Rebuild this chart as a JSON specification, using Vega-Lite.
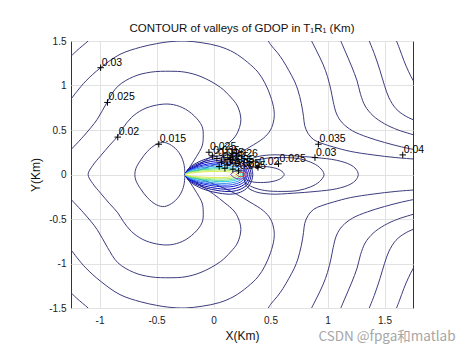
{
"$schema":"https://vega.github.io/schema/vega-lite/v6.json",
"width":342,"height":267,
"autosize":{"type":"none"},
"padding":{"left":71,"top":41,"right":61,"bottom":45},
"config":{"view":{"stroke":"#333333","strokeWidth":1},"font":"Liberation Sans",
 "axis":{"grid":true,"gridColor":"#e2e2e2","gridWidth":1,"ticks":false,"domain":false,"labelFontSize":10,"labelColor":"#1a1a1a","titleFontSize":12,"titleFontWeight":"normal","titleColor":"#111111"}},
"title":{"text":"CONTOUR of valleys of GDOP in T₁R₁ (Km)","fontSize":11.5,"fontWeight":"normal","color":"#111111","offset":2,"font":"Liberation Sans"},
"datasets":{
"lines":[
{"id":"c015","lvl":"0.015","i":0,"x":-0.25,"y":0},{"id":"c015","lvl":"0.015","i":1,"x":-0.26,"y":0.12},{"id":"c015","lvl":"0.015","i":2,"x":-0.29,"y":0.22},{"id":"c015","lvl":"0.015","i":3,"x":-0.35,"y":0.31},{"id":"c015","lvl":"0.015","i":4,"x":-0.43,"y":0.36},{"id":"c015","lvl":"0.015","i":5,"x":-0.5,"y":0.34},{"id":"c015","lvl":"0.015","i":6,"x":-0.58,"y":0.26},{"id":"c015","lvl":"0.015","i":7,"x":-0.64,"y":0.16},{"id":"c015","lvl":"0.015","i":8,"x":-0.68,"y":0.07},{"id":"c015","lvl":"0.015","i":9,"x":-0.69,"y":0},{"id":"c015","lvl":"0.015","i":10,"x":-0.68,"y":-0.07},{"id":"c015","lvl":"0.015","i":11,"x":-0.64,"y":-0.16},{"id":"c015","lvl":"0.015","i":12,"x":-0.58,"y":-0.26},{"id":"c015","lvl":"0.015","i":13,"x":-0.5,"y":-0.34},{"id":"c015","lvl":"0.015","i":14,"x":-0.43,"y":-0.36},{"id":"c015","lvl":"0.015","i":15,"x":-0.35,"y":-0.31},{"id":"c015","lvl":"0.015","i":16,"x":-0.29,"y":-0.22},{"id":"c015","lvl":"0.015","i":17,"x":-0.26,"y":-0.12},{"id":"c015","lvl":"0.015","i":18,"x":-0.25,"y":0},

{"id":"c020","lvl":"0.02","i":0,"x":-0.25,"y":0},{"id":"c020","lvl":"0.02","i":1,"x":-0.21,"y":0.08},{"id":"c020","lvl":"0.02","i":2,"x":-0.15,"y":0.2},{"id":"c020","lvl":"0.02","i":3,"x":-0.1,"y":0.32},{"id":"c020","lvl":"0.02","i":4,"x":-0.09,"y":0.42},{"id":"c020","lvl":"0.02","i":5,"x":-0.1,"y":0.54},{"id":"c020","lvl":"0.02","i":6,"x":-0.17,"y":0.66},{"id":"c020","lvl":"0.02","i":7,"x":-0.27,"y":0.75},{"id":"c020","lvl":"0.02","i":8,"x":-0.38,"y":0.79},{"id":"c020","lvl":"0.02","i":9,"x":-0.5,"y":0.78},{"id":"c020","lvl":"0.02","i":10,"x":-0.62,"y":0.73},{"id":"c020","lvl":"0.02","i":11,"x":-0.72,"y":0.64},{"id":"c020","lvl":"0.02","i":12,"x":-0.79,"y":0.53},{"id":"c020","lvl":"0.02","i":13,"x":-0.84,"y":0.43},{"id":"c020","lvl":"0.02","i":14,"x":-0.91,"y":0.33},{"id":"c020","lvl":"0.02","i":15,"x":-0.99,"y":0.21},{"id":"c020","lvl":"0.02","i":16,"x":-1.06,"y":0.1},{"id":"c020","lvl":"0.02","i":17,"x":-1.1,"y":0},{"id":"c020","lvl":"0.02","i":18,"x":-1.06,"y":-0.1},{"id":"c020","lvl":"0.02","i":19,"x":-0.99,"y":-0.21},{"id":"c020","lvl":"0.02","i":20,"x":-0.91,"y":-0.33},{"id":"c020","lvl":"0.02","i":21,"x":-0.84,"y":-0.43},{"id":"c020","lvl":"0.02","i":22,"x":-0.79,"y":-0.53},{"id":"c020","lvl":"0.02","i":23,"x":-0.72,"y":-0.64},{"id":"c020","lvl":"0.02","i":24,"x":-0.62,"y":-0.73},{"id":"c020","lvl":"0.02","i":25,"x":-0.5,"y":-0.78},{"id":"c020","lvl":"0.02","i":26,"x":-0.38,"y":-0.79},{"id":"c020","lvl":"0.02","i":27,"x":-0.27,"y":-0.75},{"id":"c020","lvl":"0.02","i":28,"x":-0.17,"y":-0.66},{"id":"c020","lvl":"0.02","i":29,"x":-0.1,"y":-0.54},{"id":"c020","lvl":"0.02","i":30,"x":-0.09,"y":-0.42},{"id":"c020","lvl":"0.02","i":31,"x":-0.1,"y":-0.32},{"id":"c020","lvl":"0.02","i":32,"x":-0.15,"y":-0.2},{"id":"c020","lvl":"0.02","i":33,"x":-0.21,"y":-0.08},{"id":"c020","lvl":"0.02","i":34,"x":-0.25,"y":0},

{"id":"c025","lvl":"0.025","i":0,"x":-1.28,"y":0.24},{"id":"c025","lvl":"0.025","i":1,"x":-1.14,"y":0.43},{"id":"c025","lvl":"0.025","i":2,"x":-1.02,"y":0.62},{"id":"c025","lvl":"0.025","i":3,"x":-0.93,"y":0.82},{"id":"c025","lvl":"0.025","i":4,"x":-0.84,"y":0.99},{"id":"c025","lvl":"0.025","i":5,"x":-0.7,"y":1.1},{"id":"c025","lvl":"0.025","i":6,"x":-0.55,"y":1.15},{"id":"c025","lvl":"0.025","i":7,"x":-0.38,"y":1.16},{"id":"c025","lvl":"0.025","i":8,"x":-0.25,"y":1.15},{"id":"c025","lvl":"0.025","i":9,"x":-0.11,"y":1.1},{"id":"c025","lvl":"0.025","i":10,"x":0.06,"y":0.98},{"id":"c025","lvl":"0.025","i":11,"x":0.15,"y":0.87},{"id":"c025","lvl":"0.025","i":12,"x":0.21,"y":0.77},{"id":"c025","lvl":"0.025","i":13,"x":0.24,"y":0.62},{"id":"c025","lvl":"0.025","i":14,"x":0.22,"y":0.5},{"id":"c025","lvl":"0.025","i":15,"x":0.18,"y":0.41},{"id":"c025","lvl":"0.025","i":16,"x":0.1,"y":0.32},{"id":"c025","lvl":"0.025","i":17,"x":0.0,"y":0.22},{"id":"c025","lvl":"0.025","i":18,"x":-0.14,"y":0.1},{"id":"c025","lvl":"0.025","i":19,"x":-0.25,"y":0},{"id":"c025","lvl":"0.025","i":20,"x":-0.14,"y":-0.1},{"id":"c025","lvl":"0.025","i":21,"x":0.0,"y":-0.22},{"id":"c025","lvl":"0.025","i":22,"x":0.1,"y":-0.32},{"id":"c025","lvl":"0.025","i":23,"x":0.18,"y":-0.41},{"id":"c025","lvl":"0.025","i":24,"x":0.22,"y":-0.5},{"id":"c025","lvl":"0.025","i":25,"x":0.24,"y":-0.62},{"id":"c025","lvl":"0.025","i":26,"x":0.21,"y":-0.77},{"id":"c025","lvl":"0.025","i":27,"x":0.15,"y":-0.87},{"id":"c025","lvl":"0.025","i":28,"x":0.06,"y":-0.98},{"id":"c025","lvl":"0.025","i":29,"x":-0.11,"y":-1.1},{"id":"c025","lvl":"0.025","i":30,"x":-0.25,"y":-1.15},{"id":"c025","lvl":"0.025","i":31,"x":-0.38,"y":-1.16},{"id":"c025","lvl":"0.025","i":32,"x":-0.55,"y":-1.15},{"id":"c025","lvl":"0.025","i":33,"x":-0.7,"y":-1.1},{"id":"c025","lvl":"0.025","i":34,"x":-0.84,"y":-0.99},{"id":"c025","lvl":"0.025","i":35,"x":-0.93,"y":-0.82},{"id":"c025","lvl":"0.025","i":36,"x":-1.02,"y":-0.62},{"id":"c025","lvl":"0.025","i":37,"x":-1.14,"y":-0.43},{"id":"c025","lvl":"0.025","i":38,"x":-1.28,"y":-0.24},

{"id":"c030","lvl":"0.03","i":0,"x":-1.3,"y":0.76},{"id":"c030","lvl":"0.03","i":1,"x":-1.2,"y":0.93},{"id":"c030","lvl":"0.03","i":2,"x":-1.12,"y":1.05},{"id":"c030","lvl":"0.03","i":3,"x":-0.99,"y":1.2},{"id":"c030","lvl":"0.03","i":4,"x":-0.82,"y":1.35},{"id":"c030","lvl":"0.03","i":5,"x":-0.64,"y":1.43},{"id":"c030","lvl":"0.03","i":6,"x":-0.5,"y":1.47},{"id":"c030","lvl":"0.03","i":7,"x":-0.4,"y":1.49},{"id":"c030","lvl":"0.03","i":8,"x":-0.25,"y":1.5},{"id":"c030","lvl":"0.03","i":9,"x":-0.1,"y":1.48},{"id":"c030","lvl":"0.03","i":10,"x":0.05,"y":1.44},{"id":"c030","lvl":"0.03","i":11,"x":0.18,"y":1.37},{"id":"c030","lvl":"0.03","i":12,"x":0.3,"y":1.26},{"id":"c030","lvl":"0.03","i":13,"x":0.39,"y":1.15},{"id":"c030","lvl":"0.03","i":14,"x":0.45,"y":1.03},{"id":"c030","lvl":"0.03","i":15,"x":0.5,"y":0.88},{"id":"c030","lvl":"0.03","i":16,"x":0.53,"y":0.73},{"id":"c030","lvl":"0.03","i":17,"x":0.53,"y":0.62},{"id":"c030","lvl":"0.03","i":18,"x":0.5,"y":0.5},{"id":"c030","lvl":"0.03","i":19,"x":0.44,"y":0.41},{"id":"c030","lvl":"0.03","i":20,"x":0.32,"y":0.31},{"id":"c030","lvl":"0.03","i":21,"x":0.2,"y":0.22},{"id":"c030","lvl":"0.03","i":22,"x":0.05,"y":0.13},{"id":"c030","lvl":"0.03","i":23,"x":-0.1,"y":0.06},{"id":"c030","lvl":"0.03","i":24,"x":-0.25,"y":0},{"id":"c030","lvl":"0.03","i":25,"x":-0.1,"y":-0.06},{"id":"c030","lvl":"0.03","i":26,"x":0.05,"y":-0.13},{"id":"c030","lvl":"0.03","i":27,"x":0.2,"y":-0.22},{"id":"c030","lvl":"0.03","i":28,"x":0.32,"y":-0.31},{"id":"c030","lvl":"0.03","i":29,"x":0.44,"y":-0.41},{"id":"c030","lvl":"0.03","i":30,"x":0.5,"y":-0.5},{"id":"c030","lvl":"0.03","i":31,"x":0.53,"y":-0.62},{"id":"c030","lvl":"0.03","i":32,"x":0.53,"y":-0.73},{"id":"c030","lvl":"0.03","i":33,"x":0.5,"y":-0.88},{"id":"c030","lvl":"0.03","i":34,"x":0.45,"y":-1.03},{"id":"c030","lvl":"0.03","i":35,"x":0.39,"y":-1.15},{"id":"c030","lvl":"0.03","i":36,"x":0.3,"y":-1.26},{"id":"c030","lvl":"0.03","i":37,"x":0.18,"y":-1.37},{"id":"c030","lvl":"0.03","i":38,"x":0.05,"y":-1.44},{"id":"c030","lvl":"0.03","i":39,"x":-0.1,"y":-1.48},{"id":"c030","lvl":"0.03","i":40,"x":-0.25,"y":-1.5},{"id":"c030","lvl":"0.03","i":41,"x":-0.4,"y":-1.49},{"id":"c030","lvl":"0.03","i":42,"x":-0.5,"y":-1.47},{"id":"c030","lvl":"0.03","i":43,"x":-0.64,"y":-1.43},{"id":"c030","lvl":"0.03","i":44,"x":-0.82,"y":-1.35},{"id":"c030","lvl":"0.03","i":45,"x":-0.99,"y":-1.2},{"id":"c030","lvl":"0.03","i":46,"x":-1.12,"y":-1.05},{"id":"c030","lvl":"0.03","i":47,"x":-1.2,"y":-0.93},{"id":"c030","lvl":"0.03","i":48,"x":-1.3,"y":-0.76},

{"id":"c035a","lvl":"0.035","i":0,"x":-1.32,"y":1.24},{"id":"c035a","lvl":"0.035","i":1,"x":-1.2,"y":1.39},{"id":"c035a","lvl":"0.035","i":2,"x":-1.1,"y":1.5},{"id":"c035a","lvl":"0.035","i":3,"x":-1.06,"y":1.55},
{"id":"c035b","lvl":"0.035","i":0,"x":-1.32,"y":-1.24},{"id":"c035b","lvl":"0.035","i":1,"x":-1.2,"y":-1.39},{"id":"c035b","lvl":"0.035","i":2,"x":-1.1,"y":-1.5},{"id":"c035b","lvl":"0.035","i":3,"x":-1.06,"y":-1.55},

{"id":"c035c","lvl":"0.035","i":0,"x":0.46,"y":1.55},{"id":"c035c","lvl":"0.035","i":1,"x":0.5,"y":1.46},{"id":"c035c","lvl":"0.035","i":2,"x":0.56,"y":1.37},{"id":"c035c","lvl":"0.035","i":3,"x":0.61,"y":1.28},{"id":"c035c","lvl":"0.035","i":4,"x":0.66,"y":1.17},{"id":"c035c","lvl":"0.035","i":5,"x":0.71,"y":1.05},{"id":"c035c","lvl":"0.035","i":6,"x":0.74,"y":0.95},{"id":"c035c","lvl":"0.035","i":7,"x":0.77,"y":0.8},{"id":"c035c","lvl":"0.035","i":8,"x":0.79,"y":0.65},{"id":"c035c","lvl":"0.035","i":9,"x":0.8,"y":0.55},{"id":"c035c","lvl":"0.035","i":10,"x":0.83,"y":0.46},{"id":"c035c","lvl":"0.035","i":11,"x":0.88,"y":0.39},{"id":"c035c","lvl":"0.035","i":12,"x":0.95,"y":0.35},{"id":"c035c","lvl":"0.035","i":13,"x":1.05,"y":0.31},{"id":"c035c","lvl":"0.035","i":14,"x":1.2,"y":0.26},{"id":"c035c","lvl":"0.035","i":15,"x":1.4,"y":0.22},{"id":"c035c","lvl":"0.035","i":16,"x":1.6,"y":0.19},{"id":"c035c","lvl":"0.035","i":17,"x":1.8,"y":0.17},
{"id":"c035d","lvl":"0.035","i":0,"x":0.46,"y":-1.55},{"id":"c035d","lvl":"0.035","i":1,"x":0.5,"y":-1.46},{"id":"c035d","lvl":"0.035","i":2,"x":0.56,"y":-1.37},{"id":"c035d","lvl":"0.035","i":3,"x":0.61,"y":-1.28},{"id":"c035d","lvl":"0.035","i":4,"x":0.66,"y":-1.17},{"id":"c035d","lvl":"0.035","i":5,"x":0.71,"y":-1.05},{"id":"c035d","lvl":"0.035","i":6,"x":0.74,"y":-0.95},{"id":"c035d","lvl":"0.035","i":7,"x":0.77,"y":-0.8},{"id":"c035d","lvl":"0.035","i":8,"x":0.79,"y":-0.65},{"id":"c035d","lvl":"0.035","i":9,"x":0.8,"y":-0.55},{"id":"c035d","lvl":"0.035","i":10,"x":0.83,"y":-0.46},{"id":"c035d","lvl":"0.035","i":11,"x":0.88,"y":-0.39},{"id":"c035d","lvl":"0.035","i":12,"x":0.95,"y":-0.35},{"id":"c035d","lvl":"0.035","i":13,"x":1.05,"y":-0.31},{"id":"c035d","lvl":"0.035","i":14,"x":1.2,"y":-0.26},{"id":"c035d","lvl":"0.035","i":15,"x":1.4,"y":-0.22},{"id":"c035d","lvl":"0.035","i":16,"x":1.6,"y":-0.19},{"id":"c035d","lvl":"0.035","i":17,"x":1.8,"y":-0.17},

{"id":"c040a","lvl":"0.04","i":0,"x":0.84,"y":1.55},{"id":"c040a","lvl":"0.04","i":1,"x":0.9,"y":1.4},{"id":"c040a","lvl":"0.04","i":2,"x":0.96,"y":1.24},{"id":"c040a","lvl":"0.04","i":3,"x":1.0,"y":1.1},{"id":"c040a","lvl":"0.04","i":4,"x":1.03,"y":0.95},{"id":"c040a","lvl":"0.04","i":5,"x":1.05,"y":0.82},{"id":"c040a","lvl":"0.04","i":6,"x":1.08,"y":0.68},{"id":"c040a","lvl":"0.04","i":7,"x":1.13,"y":0.58},{"id":"c040a","lvl":"0.04","i":8,"x":1.22,"y":0.49},{"id":"c040a","lvl":"0.04","i":9,"x":1.35,"y":0.42},{"id":"c040a","lvl":"0.04","i":10,"x":1.5,"y":0.36},{"id":"c040a","lvl":"0.04","i":11,"x":1.65,"y":0.31},{"id":"c040a","lvl":"0.04","i":12,"x":1.8,"y":0.27},
{"id":"c040b","lvl":"0.04","i":0,"x":0.84,"y":-1.55},{"id":"c040b","lvl":"0.04","i":1,"x":0.9,"y":-1.4},{"id":"c040b","lvl":"0.04","i":2,"x":0.96,"y":-1.24},{"id":"c040b","lvl":"0.04","i":3,"x":1.0,"y":-1.1},{"id":"c040b","lvl":"0.04","i":4,"x":1.03,"y":-0.95},{"id":"c040b","lvl":"0.04","i":5,"x":1.05,"y":-0.82},{"id":"c040b","lvl":"0.04","i":6,"x":1.08,"y":-0.68},{"id":"c040b","lvl":"0.04","i":7,"x":1.13,"y":-0.58},{"id":"c040b","lvl":"0.04","i":8,"x":1.22,"y":-0.49},{"id":"c040b","lvl":"0.04","i":9,"x":1.35,"y":-0.42},{"id":"c040b","lvl":"0.04","i":10,"x":1.5,"y":-0.36},{"id":"c040b","lvl":"0.04","i":11,"x":1.65,"y":-0.31},{"id":"c040b","lvl":"0.04","i":12,"x":1.8,"y":-0.27},

{"id":"c045a","lvl":"0.045","i":0,"x":1.1,"y":1.55},{"id":"c045a","lvl":"0.045","i":1,"x":1.15,"y":1.4},{"id":"c045a","lvl":"0.045","i":2,"x":1.21,"y":1.22},{"id":"c045a","lvl":"0.045","i":3,"x":1.26,"y":1.05},{"id":"c045a","lvl":"0.045","i":4,"x":1.29,"y":0.9},{"id":"c045a","lvl":"0.045","i":5,"x":1.33,"y":0.77},{"id":"c045a","lvl":"0.045","i":6,"x":1.4,"y":0.66},{"id":"c045a","lvl":"0.045","i":7,"x":1.5,"y":0.57},{"id":"c045a","lvl":"0.045","i":8,"x":1.62,"y":0.5},{"id":"c045a","lvl":"0.045","i":9,"x":1.8,"y":0.43},
{"id":"c045b","lvl":"0.045","i":0,"x":1.1,"y":-1.55},{"id":"c045b","lvl":"0.045","i":1,"x":1.15,"y":-1.4},{"id":"c045b","lvl":"0.045","i":2,"x":1.21,"y":-1.22},{"id":"c045b","lvl":"0.045","i":3,"x":1.26,"y":-1.05},{"id":"c045b","lvl":"0.045","i":4,"x":1.29,"y":-0.9},{"id":"c045b","lvl":"0.045","i":5,"x":1.33,"y":-0.77},{"id":"c045b","lvl":"0.045","i":6,"x":1.4,"y":-0.66},{"id":"c045b","lvl":"0.045","i":7,"x":1.5,"y":-0.57},{"id":"c045b","lvl":"0.045","i":8,"x":1.62,"y":-0.5},{"id":"c045b","lvl":"0.045","i":9,"x":1.8,"y":-0.43},

{"id":"c050a","lvl":"0.05","i":0,"x":1.35,"y":1.55},{"id":"c050a","lvl":"0.05","i":1,"x":1.41,"y":1.36},{"id":"c050a","lvl":"0.05","i":2,"x":1.46,"y":1.17},{"id":"c050a","lvl":"0.05","i":3,"x":1.5,"y":1.0},{"id":"c050a","lvl":"0.05","i":4,"x":1.54,"y":0.86},{"id":"c050a","lvl":"0.05","i":5,"x":1.6,"y":0.74},{"id":"c050a","lvl":"0.05","i":6,"x":1.68,"y":0.66},{"id":"c050a","lvl":"0.05","i":7,"x":1.8,"y":0.59},
{"id":"c050b","lvl":"0.05","i":0,"x":1.35,"y":-1.55},{"id":"c050b","lvl":"0.05","i":1,"x":1.41,"y":-1.36},{"id":"c050b","lvl":"0.05","i":2,"x":1.46,"y":-1.17},{"id":"c050b","lvl":"0.05","i":3,"x":1.5,"y":-1.0},{"id":"c050b","lvl":"0.05","i":4,"x":1.54,"y":-0.86},{"id":"c050b","lvl":"0.05","i":5,"x":1.6,"y":-0.74},{"id":"c050b","lvl":"0.05","i":6,"x":1.68,"y":-0.66},{"id":"c050b","lvl":"0.05","i":7,"x":1.8,"y":-0.59},

{"id":"c055a","lvl":"0.055","i":0,"x":1.59,"y":1.55},{"id":"c055a","lvl":"0.055","i":1,"x":1.63,"y":1.42},{"id":"c055a","lvl":"0.055","i":2,"x":1.67,"y":1.28},{"id":"c055a","lvl":"0.055","i":3,"x":1.71,"y":1.16},{"id":"c055a","lvl":"0.055","i":4,"x":1.75,"y":1.06},{"id":"c055a","lvl":"0.055","i":5,"x":1.8,"y":0.97},
{"id":"c055b","lvl":"0.055","i":0,"x":1.59,"y":-1.55},{"id":"c055b","lvl":"0.055","i":1,"x":1.63,"y":-1.42},{"id":"c055b","lvl":"0.055","i":2,"x":1.67,"y":-1.28},{"id":"c055b","lvl":"0.055","i":3,"x":1.71,"y":-1.16},{"id":"c055b","lvl":"0.055","i":4,"x":1.75,"y":-1.06},{"id":"c055b","lvl":"0.055","i":5,"x":1.8,"y":-0.97},

{"id":"r020","lvl":"0.02","i":0,"x":0.26,"y":0},{"id":"r020","lvl":"0.02","i":1,"x":0.28,"y":0.05},{"id":"r020","lvl":"0.02","i":2,"x":0.33,"y":0.08},{"id":"r020","lvl":"0.02","i":3,"x":0.44,"y":0.09},{"id":"r020","lvl":"0.02","i":4,"x":0.53,"y":0.075},{"id":"r020","lvl":"0.02","i":5,"x":0.59,"y":0.045},{"id":"r020","lvl":"0.02","i":6,"x":0.62,"y":0},{"id":"r020","lvl":"0.02","i":7,"x":0.59,"y":-0.045},{"id":"r020","lvl":"0.02","i":8,"x":0.53,"y":-0.075},{"id":"r020","lvl":"0.02","i":9,"x":0.44,"y":-0.09},{"id":"r020","lvl":"0.02","i":10,"x":0.33,"y":-0.08},{"id":"r020","lvl":"0.02","i":11,"x":0.28,"y":-0.05},{"id":"r020","lvl":"0.02","i":12,"x":0.26,"y":0},

{"id":"r025","lvl":"0.025","i":0,"x":0.26,"y":0},{"id":"r025","lvl":"0.025","i":1,"x":0.28,"y":0.09},{"id":"r025","lvl":"0.025","i":2,"x":0.34,"y":0.14},{"id":"r025","lvl":"0.025","i":3,"x":0.45,"y":0.18},{"id":"r025","lvl":"0.025","i":4,"x":0.6,"y":0.19},{"id":"r025","lvl":"0.025","i":5,"x":0.74,"y":0.18},{"id":"r025","lvl":"0.025","i":6,"x":0.85,"y":0.14},{"id":"r025","lvl":"0.025","i":7,"x":0.93,"y":0.08},{"id":"r025","lvl":"0.025","i":8,"x":0.97,"y":0},{"id":"r025","lvl":"0.025","i":9,"x":0.93,"y":-0.08},{"id":"r025","lvl":"0.025","i":10,"x":0.85,"y":-0.14},{"id":"r025","lvl":"0.025","i":11,"x":0.74,"y":-0.18},{"id":"r025","lvl":"0.025","i":12,"x":0.6,"y":-0.19},{"id":"r025","lvl":"0.025","i":13,"x":0.45,"y":-0.18},{"id":"r025","lvl":"0.025","i":14,"x":0.34,"y":-0.14},{"id":"r025","lvl":"0.025","i":15,"x":0.28,"y":-0.09},{"id":"r025","lvl":"0.025","i":16,"x":0.26,"y":0},

{"id":"r030","lvl":"0.03","i":0,"x":0.26,"y":0},{"id":"r030","lvl":"0.03","i":1,"x":0.29,"y":0.13},{"id":"r030","lvl":"0.03","i":2,"x":0.36,"y":0.19},{"id":"r030","lvl":"0.03","i":3,"x":0.5,"y":0.22},{"id":"r030","lvl":"0.03","i":4,"x":0.7,"y":0.21},{"id":"r030","lvl":"0.03","i":5,"x":0.9,"y":0.19},{"id":"r030","lvl":"0.03","i":6,"x":1.08,"y":0.16},{"id":"r030","lvl":"0.03","i":7,"x":1.2,"y":0.11},{"id":"r030","lvl":"0.03","i":8,"x":1.25,"y":0.06},{"id":"r030","lvl":"0.03","i":9,"x":1.27,"y":0},{"id":"r030","lvl":"0.03","i":10,"x":1.25,"y":-0.06},{"id":"r030","lvl":"0.03","i":11,"x":1.2,"y":-0.11},{"id":"r030","lvl":"0.03","i":12,"x":1.08,"y":-0.16},{"id":"r030","lvl":"0.03","i":13,"x":0.9,"y":-0.19},{"id":"r030","lvl":"0.03","i":14,"x":0.7,"y":-0.21},{"id":"r030","lvl":"0.03","i":15,"x":0.5,"y":-0.22},{"id":"r030","lvl":"0.03","i":16,"x":0.36,"y":-0.19},{"id":"r030","lvl":"0.03","i":17,"x":0.29,"y":-0.13},{"id":"r030","lvl":"0.03","i":18,"x":0.26,"y":0},

{"id":"k10","lvl":"0.06","i":0,"x":-0.25,"y":0},{"id":"k10","lvl":"0.06","i":1,"x":-0.22,"y":0.066},{"id":"k10","lvl":"0.06","i":2,"x":-0.161,"y":0.121},{"id":"k10","lvl":"0.06","i":3,"x":-0.072,"y":0.172},{"id":"k10","lvl":"0.06","i":4,"x":0.048,"y":0.209},{"id":"k10","lvl":"0.06","i":5,"x":0.167,"y":0.22},{"id":"k10","lvl":"0.06","i":6,"x":0.256,"y":0.187},{"id":"k10","lvl":"0.06","i":7,"x":0.315,"y":0.121},{"id":"k10","lvl":"0.06","i":8,"x":0.345,"y":0},{"id":"k10","lvl":"0.06","i":9,"x":0.315,"y":-0.121},{"id":"k10","lvl":"0.06","i":10,"x":0.256,"y":-0.187},{"id":"k10","lvl":"0.06","i":11,"x":0.167,"y":-0.22},{"id":"k10","lvl":"0.06","i":12,"x":0.048,"y":-0.209},{"id":"k10","lvl":"0.06","i":13,"x":-0.072,"y":-0.172},{"id":"k10","lvl":"0.06","i":14,"x":-0.161,"y":-0.121},{"id":"k10","lvl":"0.06","i":15,"x":-0.22,"y":-0.066},{"id":"k10","lvl":"0.06","i":16,"x":-0.25,"y":0},

{"id":"k9","lvl":"0.07","i":0,"x":-0.25,"y":0},{"id":"k9","lvl":"0.07","i":1,"x":-0.221,"y":0.057},{"id":"k9","lvl":"0.07","i":2,"x":-0.163,"y":0.105},{"id":"k9","lvl":"0.07","i":3,"x":-0.076,"y":0.148},{"id":"k9","lvl":"0.07","i":4,"x":0.04,"y":0.181},{"id":"k9","lvl":"0.07","i":5,"x":0.156,"y":0.19},{"id":"k9","lvl":"0.07","i":6,"x":0.243,"y":0.162},{"id":"k9","lvl":"0.07","i":7,"x":0.301,"y":0.105},{"id":"k9","lvl":"0.07","i":8,"x":0.33,"y":0},{"id":"k9","lvl":"0.07","i":9,"x":0.301,"y":-0.105},{"id":"k9","lvl":"0.07","i":10,"x":0.243,"y":-0.162},{"id":"k9","lvl":"0.07","i":11,"x":0.156,"y":-0.19},{"id":"k9","lvl":"0.07","i":12,"x":0.04,"y":-0.181},{"id":"k9","lvl":"0.07","i":13,"x":-0.076,"y":-0.148},{"id":"k9","lvl":"0.07","i":14,"x":-0.163,"y":-0.105},{"id":"k9","lvl":"0.07","i":15,"x":-0.221,"y":-0.057},{"id":"k9","lvl":"0.07","i":16,"x":-0.25,"y":0},

{"id":"k8","lvl":"0.08","i":0,"x":-0.25,"y":0},{"id":"k8","lvl":"0.08","i":1,"x":-0.222,"y":0.05},{"id":"k8","lvl":"0.08","i":2,"x":-0.165,"y":0.091},{"id":"k8","lvl":"0.08","i":3,"x":-0.081,"y":0.129},{"id":"k8","lvl":"0.08","i":4,"x":0.033,"y":0.157},{"id":"k8","lvl":"0.08","i":5,"x":0.146,"y":0.165},{"id":"k8","lvl":"0.08","i":6,"x":0.23,"y":0.14},{"id":"k8","lvl":"0.08","i":7,"x":0.287,"y":0.091},{"id":"k8","lvl":"0.08","i":8,"x":0.315,"y":0},{"id":"k8","lvl":"0.08","i":9,"x":0.287,"y":-0.091},{"id":"k8","lvl":"0.08","i":10,"x":0.23,"y":-0.14},{"id":"k8","lvl":"0.08","i":11,"x":0.146,"y":-0.165},{"id":"k8","lvl":"0.08","i":12,"x":0.033,"y":-0.157},{"id":"k8","lvl":"0.08","i":13,"x":-0.081,"y":-0.129},{"id":"k8","lvl":"0.08","i":14,"x":-0.165,"y":-0.091},{"id":"k8","lvl":"0.08","i":15,"x":-0.222,"y":-0.05},{"id":"k8","lvl":"0.08","i":16,"x":-0.25,"y":0},

{"id":"k7","lvl":"0.09","i":0,"x":-0.25,"y":0},{"id":"k7","lvl":"0.09","i":1,"x":-0.223,"y":0.042},{"id":"k7","lvl":"0.09","i":2,"x":-0.168,"y":0.077},{"id":"k7","lvl":"0.09","i":3,"x":-0.085,"y":0.109},{"id":"k7","lvl":"0.09","i":4,"x":0.025,"y":0.133},{"id":"k7","lvl":"0.09","i":5,"x":0.135,"y":0.14},{"id":"k7","lvl":"0.09","i":6,"x":0.218,"y":0.119},{"id":"k7","lvl":"0.09","i":7,"x":0.273,"y":0.077},{"id":"k7","lvl":"0.09","i":8,"x":0.3,"y":0},{"id":"k7","lvl":"0.09","i":9,"x":0.273,"y":-0.077},{"id":"k7","lvl":"0.09","i":10,"x":0.218,"y":-0.119},{"id":"k7","lvl":"0.09","i":11,"x":0.135,"y":-0.14},{"id":"k7","lvl":"0.09","i":12,"x":0.025,"y":-0.133},{"id":"k7","lvl":"0.09","i":13,"x":-0.085,"y":-0.109},{"id":"k7","lvl":"0.09","i":14,"x":-0.168,"y":-0.077},{"id":"k7","lvl":"0.09","i":15,"x":-0.223,"y":-0.042},{"id":"k7","lvl":"0.09","i":16,"x":-0.25,"y":0},

{"id":"k6","lvl":"0.1","i":0,"x":-0.25,"y":0},{"id":"k6","lvl":"0.1","i":1,"x":-0.223,"y":0.036},{"id":"k6","lvl":"0.1","i":2,"x":-0.17,"y":0.066},{"id":"k6","lvl":"0.1","i":3,"x":-0.09,"y":0.094},{"id":"k6","lvl":"0.1","i":4,"x":0.018,"y":0.114},{"id":"k6","lvl":"0.1","i":5,"x":0.125,"y":0.12},{"id":"k6","lvl":"0.1","i":6,"x":0.205,"y":0.102},{"id":"k6","lvl":"0.1","i":7,"x":0.258,"y":0.066},{"id":"k6","lvl":"0.1","i":8,"x":0.285,"y":0},{"id":"k6","lvl":"0.1","i":9,"x":0.258,"y":-0.066},{"id":"k6","lvl":"0.1","i":10,"x":0.205,"y":-0.102},{"id":"k6","lvl":"0.1","i":11,"x":0.125,"y":-0.12},{"id":"k6","lvl":"0.1","i":12,"x":0.018,"y":-0.114},{"id":"k6","lvl":"0.1","i":13,"x":-0.09,"y":-0.094},{"id":"k6","lvl":"0.1","i":14,"x":-0.17,"y":-0.066},{"id":"k6","lvl":"0.1","i":15,"x":-0.223,"y":-0.036},{"id":"k6","lvl":"0.1","i":16,"x":-0.25,"y":0},

{"id":"k5","lvl":"0.12","i":0,"x":-0.25,"y":0},{"id":"k5","lvl":"0.12","i":1,"x":-0.224,"y":0.03},{"id":"k5","lvl":"0.12","i":2,"x":-0.172,"y":0.055},{"id":"k5","lvl":"0.12","i":3,"x":-0.094,"y":0.078},{"id":"k5","lvl":"0.12","i":4,"x":0.01,"y":0.095},{"id":"k5","lvl":"0.12","i":5,"x":0.114,"y":0.1},{"id":"k5","lvl":"0.12","i":6,"x":0.192,"y":0.085},{"id":"k5","lvl":"0.12","i":7,"x":0.244,"y":0.055},{"id":"k5","lvl":"0.12","i":8,"x":0.27,"y":0},{"id":"k5","lvl":"0.12","i":9,"x":0.244,"y":-0.055},{"id":"k5","lvl":"0.12","i":10,"x":0.192,"y":-0.085},{"id":"k5","lvl":"0.12","i":11,"x":0.114,"y":-0.1},{"id":"k5","lvl":"0.12","i":12,"x":0.01,"y":-0.095},{"id":"k5","lvl":"0.12","i":13,"x":-0.094,"y":-0.078},{"id":"k5","lvl":"0.12","i":14,"x":-0.172,"y":-0.055},{"id":"k5","lvl":"0.12","i":15,"x":-0.224,"y":-0.03},{"id":"k5","lvl":"0.12","i":16,"x":-0.25,"y":0},

{"id":"k4","lvl":"0.14","i":0,"x":-0.25,"y":0},{"id":"k4","lvl":"0.14","i":1,"x":-0.225,"y":0.024},{"id":"k4","lvl":"0.14","i":2,"x":-0.174,"y":0.044},{"id":"k4","lvl":"0.14","i":3,"x":-0.099,"y":0.062},{"id":"k4","lvl":"0.14","i":4,"x":0.003,"y":0.076},{"id":"k4","lvl":"0.14","i":5,"x":0.104,"y":0.08},{"id":"k4","lvl":"0.14","i":6,"x":0.179,"y":0.068},{"id":"k4","lvl":"0.14","i":7,"x":0.23,"y":0.044},{"id":"k4","lvl":"0.14","i":8,"x":0.255,"y":0},{"id":"k4","lvl":"0.14","i":9,"x":0.23,"y":-0.044},{"id":"k4","lvl":"0.14","i":10,"x":0.179,"y":-0.068},{"id":"k4","lvl":"0.14","i":11,"x":0.104,"y":-0.08},{"id":"k4","lvl":"0.14","i":12,"x":0.003,"y":-0.076},{"id":"k4","lvl":"0.14","i":13,"x":-0.099,"y":-0.062},{"id":"k4","lvl":"0.14","i":14,"x":-0.174,"y":-0.044},{"id":"k4","lvl":"0.14","i":15,"x":-0.225,"y":-0.024},{"id":"k4","lvl":"0.14","i":16,"x":-0.25,"y":0},

{"id":"k3","lvl":"0.16","i":0,"x":-0.25,"y":0},{"id":"k3","lvl":"0.16","i":1,"x":-0.226,"y":0.02},{"id":"k3","lvl":"0.16","i":2,"x":-0.177,"y":0.036},{"id":"k3","lvl":"0.16","i":3,"x":-0.103,"y":0.051},{"id":"k3","lvl":"0.16","i":4,"x":-0.005,"y":0.062},{"id":"k3","lvl":"0.16","i":5,"x":0.093,"y":0.065},{"id":"k3","lvl":"0.16","i":6,"x":0.167,"y":0.055},{"id":"k3","lvl":"0.16","i":7,"x":0.216,"y":0.036},{"id":"k3","lvl":"0.16","i":8,"x":0.24,"y":0},{"id":"k3","lvl":"0.16","i":9,"x":0.216,"y":-0.036},{"id":"k3","lvl":"0.16","i":10,"x":0.167,"y":-0.055},{"id":"k3","lvl":"0.16","i":11,"x":0.093,"y":-0.065},{"id":"k3","lvl":"0.16","i":12,"x":-0.005,"y":-0.062},{"id":"k3","lvl":"0.16","i":13,"x":-0.103,"y":-0.051},{"id":"k3","lvl":"0.16","i":14,"x":-0.177,"y":-0.036},{"id":"k3","lvl":"0.16","i":15,"x":-0.226,"y":-0.02},{"id":"k3","lvl":"0.16","i":16,"x":-0.25,"y":0},

{"id":"k2","lvl":"0.18","i":0,"x":-0.25,"y":0},{"id":"k2","lvl":"0.18","i":1,"x":-0.227,"y":0.015},{"id":"k2","lvl":"0.18","i":2,"x":-0.18,"y":0.028},{"id":"k2","lvl":"0.18","i":3,"x":-0.109,"y":0.039},{"id":"k2","lvl":"0.18","i":4,"x":-0.015,"y":0.048},{"id":"k2","lvl":"0.18","i":5,"x":0.079,"y":0.05},{"id":"k2","lvl":"0.18","i":6,"x":0.15,"y":0.043},{"id":"k2","lvl":"0.18","i":7,"x":0.197,"y":0.028},{"id":"k2","lvl":"0.18","i":8,"x":0.22,"y":0},{"id":"k2","lvl":"0.18","i":9,"x":0.197,"y":-0.028},{"id":"k2","lvl":"0.18","i":10,"x":0.15,"y":-0.043},{"id":"k2","lvl":"0.18","i":11,"x":0.079,"y":-0.05},{"id":"k2","lvl":"0.18","i":12,"x":-0.015,"y":-0.048},{"id":"k2","lvl":"0.18","i":13,"x":-0.109,"y":-0.039},{"id":"k2","lvl":"0.18","i":14,"x":-0.18,"y":-0.028},{"id":"k2","lvl":"0.18","i":15,"x":-0.227,"y":-0.015},{"id":"k2","lvl":"0.18","i":16,"x":-0.25,"y":0},

{"id":"k1","lvl":"0.2","i":0,"x":-0.25,"y":0},{"id":"k1","lvl":"0.2","i":1,"x":-0.228,"y":0.011},{"id":"k1","lvl":"0.2","i":2,"x":-0.183,"y":0.019},{"id":"k1","lvl":"0.2","i":3,"x":-0.115,"y":0.027},{"id":"k1","lvl":"0.2","i":4,"x":-0.025,"y":0.033},{"id":"k1","lvl":"0.2","i":5,"x":0.065,"y":0.035},{"id":"k1","lvl":"0.2","i":6,"x":0.133,"y":0.03},{"id":"k1","lvl":"0.2","i":7,"x":0.178,"y":0.019},{"id":"k1","lvl":"0.2","i":8,"x":0.2,"y":0},{"id":"k1","lvl":"0.2","i":9,"x":0.178,"y":-0.019},{"id":"k1","lvl":"0.2","i":10,"x":0.133,"y":-0.03},{"id":"k1","lvl":"0.2","i":11,"x":0.065,"y":-0.035},{"id":"k1","lvl":"0.2","i":12,"x":-0.025,"y":-0.033},{"id":"k1","lvl":"0.2","i":13,"x":-0.115,"y":-0.027},{"id":"k1","lvl":"0.2","i":14,"x":-0.183,"y":-0.019},{"id":"k1","lvl":"0.2","i":15,"x":-0.228,"y":-0.011},{"id":"k1","lvl":"0.2","i":16,"x":-0.25,"y":0},

{"id":"kp","lvl":"0.25","i":0,"x":0.15,"y":0},{"id":"kp","lvl":"0.25","i":1,"x":0.19,"y":0.04},{"id":"kp","lvl":"0.25","i":2,"x":0.25,"y":0.05},{"id":"kp","lvl":"0.25","i":3,"x":0.285,"y":0.03},{"id":"kp","lvl":"0.25","i":4,"x":0.295,"y":0},{"id":"kp","lvl":"0.25","i":5,"x":0.285,"y":-0.03},{"id":"kp","lvl":"0.25","i":6,"x":0.25,"y":-0.05},{"id":"kp","lvl":"0.25","i":7,"x":0.19,"y":-0.04},{"id":"kp","lvl":"0.25","i":8,"x":0.15,"y":0},
{"id":"kr","lvl":"0.3","i":0,"x":0.2,"y":0},{"id":"kr","lvl":"0.3","i":1,"x":0.22,"y":0.02},{"id":"kr","lvl":"0.3","i":2,"x":0.25,"y":0.025},{"id":"kr","lvl":"0.3","i":3,"x":0.27,"y":0.015},{"id":"kr","lvl":"0.3","i":4,"x":0.275,"y":0},{"id":"kr","lvl":"0.3","i":5,"x":0.27,"y":-0.015},{"id":"kr","lvl":"0.3","i":6,"x":0.25,"y":-0.025},{"id":"kr","lvl":"0.3","i":7,"x":0.22,"y":-0.02},{"id":"kr","lvl":"0.3","i":8,"x":0.2,"y":0}
],
"labels":[
{"x":-0.99,"y":1.2,"t":"0.03"},{"x":-0.93,"y":0.81,"t":"0.025"},{"x":-0.84,"y":0.42,"t":"0.02"},{"x":-0.48,"y":0.34,"t":"0.015"},
{"x":0.92,"y":0.34,"t":"0.035"},{"x":0.89,"y":0.19,"t":"0.03"},{"x":0.57,"y":0.12,"t":"0.025"},{"x":0.39,"y":0.08,"t":"0.02"},{"x":1.66,"y":0.22,"t":"0.04"},
{"x":-0.04,"y":0.25,"t":"0.025"},{"x":-0.01,"y":0.21,"t":"0.035"},{"x":0.03,"y":0.18,"t":"0.045"},{"x":0.15,"y":0.17,"t":"0.026"},{"x":0.07,"y":0.14,"t":"0.055"},{"x":0.12,"y":0.11,"t":"0.065"},{"x":0.1,"y":0.07,"t":"0.075"},{"x":0.17,"y":0.06,"t":"0.085"},{"x":0.22,"y":0.04,"t":"0.095"},{"x":0.05,"y":0.09,"t":"0.11"}
],
"mark":[{"x":0.92,"y":-1.83,"t":"CSDN @fpga和matlab"}]
},
"layer":[
{"data":{"name":"lines"},
 "mark":{"type":"line","clip":true,"strokeWidth":1,"interpolate":"catmull-rom"},
 "encoding":{
  "x":{"field":"x","type":"quantitative","scale":{"domain":[-1.25,1.75],"nice":false,"zero":false},
       "axis":{"values":[-1,-0.5,0,0.5,1,1.5],"labelExpr":"toString(datum.value)","title":"X(Km)","labelPadding":7,"titlePadding":5}},
  "y":{"field":"y","type":"quantitative","scale":{"domain":[-1.5,1.5],"nice":false,"zero":false},
       "axis":{"values":[-1.5,-1,-0.5,0,0.5,1,1.5],"labelExpr":"toString(datum.value)","title":"Y(Km)","labelPadding":5,"titlePadding":6}},
  "detail":{"field":"id"},
  "order":{"field":"i","type":"quantitative"},
  "color":{"field":"lvl","type":"nominal","legend":null,
   "scale":{"domain":["0.015","0.02","0.025","0.03","0.035","0.04","0.045","0.05","0.055","0.06","0.07","0.08","0.09","0.1","0.12","0.14","0.16","0.18","0.2","0.25","0.3"],
            "range":["#3c3c7e","#3c3c7e","#3c3c7e","#3c3c7e","#3c3c7e","#3c3c7e","#3c3c7e","#3c3c7e","#3c3c7e","#262688","#14149a","#0a0ab4","#1020d8","#2050f0","#3090f0","#30c8e0","#50e090","#a8f070","#e0ec50","#8040c0","#e03030"]}}
 }},
{"data":{"name":"labels"},
 "mark":{"type":"point","shape":"M-1,0L1,0M0,-1L0,1","size":42,"filled":false,"stroke":"#000000","strokeWidth":1,"opacity":1},
 "encoding":{
  "x":{"field":"x","type":"quantitative","scale":{"domain":[-1.25,1.75],"nice":false,"zero":false}},
  "y":{"field":"y","type":"quantitative","scale":{"domain":[-1.5,1.5],"nice":false,"zero":false}}}},
{"data":{"name":"labels"},
 "mark":{"type":"text","align":"left","baseline":"alphabetic","dx":1,"dy":-2,"fontSize":10.5,"color":"#000000","font":"Liberation Sans"},
 "encoding":{
  "x":{"field":"x","type":"quantitative","scale":{"domain":[-1.25,1.75],"nice":false,"zero":false}},
  "y":{"field":"y","type":"quantitative","scale":{"domain":[-1.5,1.5],"nice":false,"zero":false}},
  "text":{"field":"t"}}},
{"data":{"name":"mark"},
 "mark":{"type":"text","align":"left","baseline":"middle","fontSize":13.5,"color":"#a6a6a6","font":"Noto Sans CJK SC"},
 "encoding":{
  "x":{"field":"x","type":"quantitative","scale":{"domain":[-1.25,1.75],"nice":false,"zero":false}},
  "y":{"field":"y","type":"quantitative","scale":{"domain":[-1.5,1.5],"nice":false,"zero":false}},
  "text":{"field":"t"}}}
]
}
